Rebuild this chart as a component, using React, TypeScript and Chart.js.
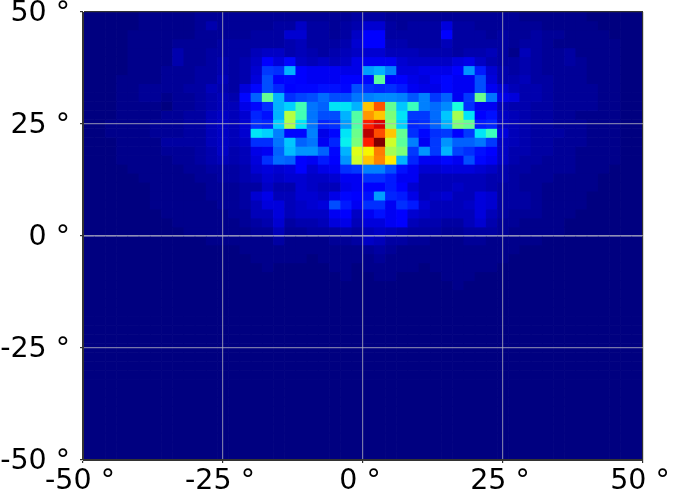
import React, { useEffect, useRef } from "react";
import { Chart, registerables } from "chart.js";

Chart.register(...registerables);

// Intensity per 2-degree bin (0-100), west to east; rows north to south.
const r00 = [0,0,0,0,0,1,1,1,1,1,2,2,2, 2,2,2,2,2,2,2,2,2,2,2,3, 3,3,2,2,2,2,2,2,2,2,2,2, 2,2,1,1,1,1,1,1,0,0,0,0,0];
const r01 = [0,0,0,0,0,1,1,1,1,1,2,4,2, 2,2,2,2,3,3,6,3,3,2,3,4, 7,7,3,2,3,3,3,8,3,3,2,2, 2,2,2,2,1,1,1,1,1,0,0,0,0];
const r02 = [0,0,0,0,1,1,1,1,1,1,2,2,2, 2,2,3,3,3,7,7,3,3,2,3,6, 11,11,3,3,3,3,3,11,3,3,3,2, 3,2,2,3,2,2,1,1,1,1,0,0,0];
const r03 = [0,0,0,0,1,1,1,1,2,2,2,2,3, 3,3,3,3,3,4,5,3,3,3,4,7, 11,11,4,4,3,3,3,5,3,3,3,3, 3,2,3,3,2,1,1,1,1,1,1,0,0];
const r04 = [0,0,0,0,1,1,1,1,4,2,2,3,3, 3,3,5,6,6,4,5,4,3,4,5,6, 7,7,5,5,5,4,4,4,3,4,4,5, 3,1,5,3,2,2,3,1,1,1,1,0,0];
const r05 = [0,0,0,0,1,1,1,1,4,2,2,3,4, 3,4,6,12,8,13,6,5,6,5,6,9, 10,10,10,7,6,6,6,6,8,9,6,4, 3,3,4,3,2,2,3,2,1,1,1,0,0];
const r06 = [0,0,0,0,1,1,1,2,2,2,3,3,4, 3,4,7,18,17,30,11,10,10,10,9,9, 28,30,25,8,8,9,9,9,12,27,15,7, 4,3,4,3,2,2,2,2,1,1,1,0,0];
const r07 = [0,0,0,1,1,1,1,2,2,2,3,3,5, 3,4,8,20,12,13,12,10,10,10,12,11, 13,46,11,11,9,8,10,13,10,10,20,8, 4,4,5,3,3,2,2,2,1,1,1,0,0];
const r08 = [0,0,0,1,1,2,2,2,2,3,3,5,4, 3,8,13,20,16,12,13,13,14,14,13,20, 17,16,17,15,10,9,9,13,10,10,20,10, 7,5,4,4,3,2,2,2,2,1,1,0,0];
const r09 = [0,0,0,1,1,2,2,1,2,2,3,4,5, 4,13,22,47,30,17,19,20,23,20,20,24, 25,26,26,25,21,25,18,22,10,18,48,24, 9,8,4,4,3,2,2,2,2,1,1,0,0];
const r10 = [0,0,0,1,1,1,1,0,2,2,3,4,5, 5,9,13,17,30,33,43,24,22,35,35,30, 70,82,47,32,42,25,23,26,38,17,10,10, 5,4,4,3,3,2,2,2,2,1,1,0,0];
const r11 = [0,0,0,1,1,1,1,2,2,3,3,5,6, 5,7,16,14,30,57,43,24,20,20,30,45, 75,70,50,35,18,18,23,32,55,35,12,14, 6,5,4,3,3,2,2,1,1,1,1,0,0];
const r12 = [0,0,1,1,1,1,2,2,2,3,3,5,6, 5,7,17,16,33,56,35,24,16,17,28,45, 88,92,52,33,16,17,22,30,50,47,15,16, 6,5,4,3,3,2,2,2,1,1,1,0,0];
const r13 = [0,0,1,1,1,1,2,2,2,3,3,5,6, 5,7,35,33,25,13,13,25,9,13,35,48, 95,83,70,47,17,13,17,18,12,18,35,42, 8,5,4,3,3,3,2,2,1,1,1,0,0];
const r14 = [0,0,0,1,1,1,1,3,3,3,3,5,6, 5,6,17,17,24,32,22,24,10,16,36,50, 88,100,60,46,25,10,18,27,22,22,24,18, 6,5,4,3,3,2,2,2,1,1,1,0,0];
const r15 = [0,0,0,1,1,1,1,2,2,2,3,4,6, 4,5,9,10,22,31,27,27,22,13,30,62, 65,78,55,50,18,27,18,30,19,17,14,11, 6,4,4,3,3,2,2,1,1,1,1,0,0];
const r16 = [0,0,0,1,1,1,1,1,2,2,3,4,5, 4,5,8,17,23,22,12,10,15,12,27,60, 70,77,66,30,16,10,10,13,10,20,13,10, 6,4,3,3,2,2,2,1,1,1,1,0,0];
const r17 = [0,0,0,0,1,1,1,1,1,2,2,3,3, 3,4,7,8,7,8,11,7,9,10,17,18, 25,25,20,14,10,7,7,8,8,8,7,6, 4,3,3,2,2,2,2,1,1,1,0,0,0];
const r18 = [0,0,0,0,0,1,1,1,1,1,2,2,3, 3,4,5,7,6,7,7,6,6,7,10,10, 17,17,15,10,10,5,5,5,5,5,5,4, 4,3,2,2,2,1,1,1,1,0,0,0,0];
const r19 = [0,0,0,0,0,0,1,1,1,1,1,2,2, 2,3,3,6,4,4,7,6,5,5,9,10, 11,11,15,12,7,5,5,5,6,5,5,4, 3,3,2,2,1,1,1,1,1,0,0,0,0];
const r20 = [0,0,0,0,0,0,1,1,1,1,1,2,2, 2,3,7,9,5,5,7,7,6,9,13,11, 14,28,16,15,9,5,6,7,5,5,8,7, 3,3,3,2,1,1,1,1,0,0,0,0,0];
const r21 = [0,0,0,0,0,0,1,1,1,1,1,1,2, 2,3,5,8,8,5,6,7,8,20,15,10, 17,17,10,17,15,7,5,5,5,6,8,7, 3,3,3,2,1,1,1,1,0,0,0,0,0];
const r22 = [0,0,0,0,0,0,0,1,1,1,1,1,1, 2,2,5,5,8,5,6,6,6,10,12,6, 10,14,10,12,7,6,5,5,5,5,8,5, 3,2,2,2,1,1,1,0,0,0,0,0,0];
const r23 = [0,0,0,0,0,0,0,0,1,1,1,1,1, 1,2,3,4,7,3,4,4,5,8,9,5, 8,8,10,11,5,4,4,3,3,5,7,4, 2,2,1,1,1,1,0,0,0,0,0,0,0];
const r24 = [0,0,0,0,0,0,0,0,0,1,1,1,1, 1,1,2,2,5,2,2,3,3,3,4,3, 5,6,5,4,3,3,3,2,2,3,3,3, 2,1,1,1,1,1,0,0,0,0,0,0,0];
const r25 = [0,0,0,0,0,0,0,0,0,0,0,1,1, 1,1,1,1,3,1,1,1,1,2,2,3, 6,5,3,3,2,2,1,1,1,2,2,1, 1,1,1,1,0,0,0,0,0,0,0,0,0];
const r26 = [0,0,0,0,0,0,0,0,0,0,0,0,0, 0,1,1,1,1,1,1,1,1,1,1,1, 2,3,2,1,1,1,1,1,1,1,1,1, 1,1,0,0,0,0,0,0,0,0,0,0,0];
const r27 = [0,0,0,0,0,0,0,0,0,0,0,0,0, 0,0,1,1,1,1,1,0,1,1,1,1, 1,2,1,1,1,1,1,1,1,1,1,1, 1,0,0,0,0,0,0,0,0,0,0,0,0];
const r28 = [0,0,0,0,0,0,0,0,0,0,0,0,0, 0,0,0,1,0,0,0,0,0,1,1,0, 1,1,1,1,1,0,1,1,1,1,1,1, 0,0,0,0,0,0,0,0,0,0,0,0,0];
const r29 = [0,0,0,0,0,0,0,0,0,0,0,0,0, 0,0,0,0,0,0,0,0,0,0,1,0, 0,1,1,0,0,0,0,1,1,1,0,0, 0,0,0,0,0,0,0,0,0,0,0,0,0];
const r30 = [0,0,0,0,0,0,0,0,0,0,0,0,0, 0,0,0,0,0,0,0,0,0,0,0,0, 0,0,0,0,0,0,0,0,1,0,0,0, 0,0,0,0,0,0,0,0,0,0,0,0,0];
const emptyRow = [0,0,0,0,0,0,0,0,0,0,0,0,0,0,0,0,0,0,0,0,0,0,0,0,0,0,0,0,0,0,0,0,0,0,0,0,0,0,0,0,0,0,0,0,0,0,0,0,0,0];
const upperRows = [r00,r01,r02,r03,r04,r05,r06,r07,r08,r09,r10,r11,r12,r13,r14,r15,r16,r17,r18,r19,r20,r21,r22,r23,r24,r25,r26,r27,r28,r29,r30];
const lowerRowCount = 19;
const binDegrees = 2;
const tickLabels = [-50, -25, 0, 25, 50];

const lerp = (x: number, pts: number[][]) => {
  for (let i = 1; i < pts.length; i++) {
    if (x <= pts[i][0]) {
      const [x0, y0] = pts[i - 1];
      const [x1, y1] = pts[i];
      return y0 + ((x - x0) / (x1 - x0)) * (y1 - y0);
    }
  }
  return pts[pts.length - 1][1];
};
const jet = (pct: number) => {
  const v = pct / 100;
  const r = lerp(v, [[0, 0], [0.35, 0], [0.66, 1], [0.89, 1], [1, 0.5]]);
  const g = lerp(v, [[0, 0], [0.125, 0], [0.375, 1], [0.64, 1], [0.91, 0], [1, 0]]);
  const b = lerp(v, [[0, 0.5], [0.11, 1], [0.34, 1], [0.65, 0], [1, 0]]);
  return `rgb(${Math.round(r * 255)},${Math.round(g * 255)},${Math.round(b * 255)})`;
};

export default function App() {
  const ref = useRef<HTMLCanvasElement>(null);
  useEffect(() => {
    const rows = [...upperRows, ...Array.from({ length: lowerRowCount }, () => emptyRow)];
    const datasets = rows.map((row, ri) => {
      const top = 50 - ri * binDegrees;
      return {
        label: `${top - binDegrees}..${top}`,
        data: row.map((_, ci) => ({ x: -50 + binDegrees * ci + binDegrees / 2, y: [top - binDegrees, top] })),
        backgroundColor: row.map((v) => jet(v)),
        borderWidth: 0,
        barPercentage: 1,
        categoryPercentage: 1,
        grouped: false,
      };
    });
    const edge = "#333333";
    const line = "rgba(180,180,190,0.66)";
    const gridColor = (ctx: any) => (Math.abs(ctx.tick?.value) === 50 ? edge : line);
    const font = { family: "'DejaVu Sans'", size: 28.5 };
    const chart = new Chart(ref.current!, {
      type: "bar",
      data: { datasets: datasets as any },
      options: {
        animation: false,
        responsive: false,
        devicePixelRatio: 1,
        layout: { padding: { top: 12, right: 32, left: 0, bottom: 0 } },
        plugins: { legend: { display: false }, tooltip: { enabled: false } },
        scales: {
          x: {
            type: "linear",
            min: -50,
            max: 50,
            offset: false,
            afterFit: (s: any) => { s.height = 38; s.paddingLeft = 0; s.paddingRight = 0; },
            afterBuildTicks: (s: any) => { s.ticks = tickLabels.map((value) => ({ value })); },
            ticks: { autoSkip: false, maxRotation: 0, color: "#000", font, padding: 1, labelOffset: -3, callback: (v: any) => `${v} °` },
            grid: { z: 1, offset: false, color: gridColor, tickColor: edge, tickLength: 3, lineWidth: 1.2 },
            border: { color: edge, width: 1, z: 2 },
          },
          y: {
            type: "linear",
            min: -50,
            max: 50,
            afterFit: (s: any) => { s.width = 83; s.paddingTop = 0; s.paddingBottom = 0; },
            afterBuildTicks: (s: any) => { s.ticks = tickLabels.map((value) => ({ value })); },
            ticks: { autoSkip: false, color: "#000", font, padding: 10, labelOffset: 2, callback: (v: any) => `${v} °` },
            grid: { z: 1, offset: false, color: gridColor, tickColor: edge, tickLength: 3, lineWidth: 1.2 },
            border: { color: edge, width: 1, z: 2 },
          },
        },
      },
    });
    return () => chart.destroy();
  }, []);
  return (
    <div style={{ position: "fixed", left: 0, top: 0, width: 675, height: 498, background: "#fff" }}>
      <canvas ref={ref} width={675} height={498} style={{ display: "block", width: 675, height: 498 }} />
    </div>
  );
}
